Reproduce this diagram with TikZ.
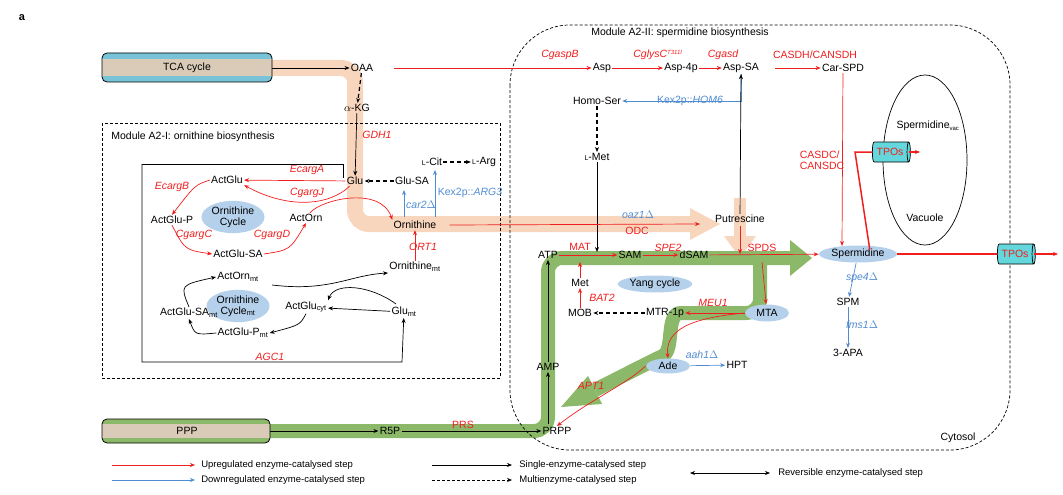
\documentclass[tikz,border=0pt]{standalone}
\usepackage{fontspec}
\setmainfont{Liberation Sans}
\usetikzlibrary{arrows.meta,shapes.geometric,calc}
\definecolor{up}{RGB}{240,30,30}
\definecolor{down}{RGB}{80,140,210}
\definecolor{peach}{RGB}{248,214,190}
\definecolor{grn}{RGB}{140,185,105}
\definecolor{ell}{RGB}{180,208,235}
\definecolor{cyl}{RGB}{100,215,220}
\newcommand{\Lsc}{{\fontsize{7}{7}\selectfont L}}
\begin{document}
\begin{tikzpicture}[x=1pt,y=-1pt,line width=0.7pt,
  every node/.style={font=\fontsize{10.5}{11}\selectfont, inner sep=1pt},
  ue/.style={text=up,font=\fontsize{10.5}{11}\selectfont\itshape},
  un/.style={text=up},
  de/.style={text=down,font=\fontsize{10.5}{11}\selectfont\itshape},
  tip/.style={-{Stealth[length=5pt,width=4pt]}},
  upa/.style={tip,draw=up},
  dna/.style={tip,draw=down},
  bka/.style={tip,draw=black},
  dsh/.style={tip,draw=black,line width=1.2pt,dash pattern=on 4pt off 3pt},
  lg/.style={anchor=west,font=\fontsize{9.5}{10}\selectfont},
  el/.style={ellipse,fill=ell,inner sep=1pt},
  cylnode/.style={cylinder,shape border rotate=0,draw,fill=cyl,aspect=0.35,minimum width=20pt,minimum height=38pt,text=up,inner sep=1pt,font=\fontsize{10.5}{11}\selectfont}]
\useasboundingbox (0,0) rectangle (1063,495);
\node[font=\bfseries\fontsize{11}{12}\selectfont] (a) at (22,18) {a};
% peach band
\draw[peach,line width=16pt,rounded corners=14pt] (272,68) -- (355,68) -- (355,224) -- (690,224);
\fill[peach] (690,208) -- (720,224) -- (690,240) -- cycle;
\fill[peach] (734,198) rectangle (746,236);
\fill[peach] (724,236) -- (756,236) -- (740,258) -- cycle;
% green band
\draw[grn,line width=14pt,rounded corners=14pt] (270,431) -- (548,431) -- (548,258) -- (795,258);
\fill[grn] (790,240) -- (812,258) -- (790,276) -- cycle;
\draw[grn,line width=14pt,rounded corners=14pt] (760,264) -- (760,313) -- (695,313) .. controls (665,313) and (675,350) .. (650,362) -- (595,390);
\fill[grn] (561,407) -- (602,404) -- (588,376) -- cycle;
% boxes
\draw[dash pattern=on 3pt off 2pt] (102,123) rectangle (500,378);
\node[anchor=west] (m1) at (110,137) {Module A2-I: ornithine biosynthesis};
\draw[rounded corners=60pt,dash pattern=on 3pt off 2pt] (510,25) rectangle (1010,450);
\node (m2) at (680,33) {Module A2-II: spermidine biosynthesis};
\node (cyto) at (958,438) {Cytosol};
\fill[rounded corners=5pt,fill={rgb,255:red,120;green,195;blue,215}] (102,53) rectangle (272,82);
\fill[fill={rgb,255:red,217;green,203;blue,183}] (102,59) rectangle (272,76);
\draw[rounded corners=5pt,thick] (102,53) rectangle (272,82);
\node (tca) at (187,68) {TCA cycle};
\fill[rounded corners=5pt,fill=grn] (102,419) rectangle (270,443);
\fill[fill={rgb,255:red,217;green,203;blue,183}] (102,424) rectangle (270,438);
\draw[rounded corners=5pt,thick] (102,419) rectangle (270,443);
\node (ppp) at (187,431) {PPP};
\coordinate (tcar) at (272,68);
\coordinate (pppr) at (270,431);
% module I nodes
\node (oaa) at (362,68) {OAA};
\node (akg) at (357,108) {$\alpha$-KG};
\node (glu) at (355,181) {Glu};
\node (gluSA) at (412,181) {Glu-SA};
\node (cit) at (432,162) {\Lsc-Cit};
\node (arg) at (484,162) {\Lsc-Arg};
\node (orn) at (415,225) {Ornithine};
\node (ornmt) at (415,267) {Ornithine\textsubscript{mt}};
\node (actglu) at (227,180) {ActGlu};
\node (actgluP) at (172,220) {ActGlu-P};
\node[el,align=center,minimum width=62pt,minimum height=26pt] (oc1) at (233,217) {Ornithine\\Cycle};
\node (actorn) at (306,218) {ActOrn};
\node (actgluSA) at (238,254) {ActGlu-SA};
\node (actornmt) at (238,277) {ActOrn\textsubscript{mt}};
\node[el,align=center,minimum width=62pt,minimum height=26pt] (oc2) at (238,306) {Ornithine\\Cycle\textsubscript{mt}};
\node (actgluSAmt) at (189,313) {ActGlu-SA\textsubscript{mt}};
\node (actglucyt) at (306,307) {ActGlu\textsubscript{cyt}};
\node (actgluPmt) at (243,333) {ActGlu-P\textsubscript{mt}};
\node (glumt) at (404,312) {Glu\textsubscript{mt}};
% module II nodes
\node (asp) at (602,68) {Asp};
\node (asp4p) at (681,68) {Asp-4p};
\node (aspSA) at (741,68) {Asp-SA};
\node (carspd) at (843,68) {Car-SPD};
\node (homoser) at (597,101) {Homo-Ser};
\node (met) at (597,157) {\Lsc-Met};
\node (put) at (740,219) {Putrescine};
\node (atp) at (548,255) {ATP};
\node (sam) at (630,255) {SAM};
\node (dsam) at (694,255) {dSAM};
\node[el,minimum width=62pt,minimum height=17pt] (spd) at (858,254) {Spermidine};
\node (met2) at (580,283) {Met};
\node (mob) at (580,313) {MOB};
\node (mtr) at (665,313) {MTR-1p};
\node[el,minimum width=44pt,minimum height=17pt] (mta) at (767,313) {MTA};
\node[el,minimum width=60pt,minimum height=17pt] (yang) at (655,284) {Yang cycle};
\node[el,minimum width=44pt,minimum height=15pt] (ade) at (668,366) {Ade};
\node (hpt) at (737,365) {HPT};
\node (amp) at (548,367) {AMP};
\node (prpp) at (557,431) {PRPP};
\node (r5p) at (390,431) {R5P};
\node (spm) at (848,302) {SPM};
\node (apa) at (848,353) {3-APA};
\draw (925,160) ellipse[x radius=42,y radius=85];
\node (spdvac) at (928,126) {Spermidine\textsubscript{\fontsize{6}{6}\selectfont vac}};
\node (vac) at (925,218) {Vacuole};
\node[cylnode] (tpo1) at (890,152) {TPOs};
\node[cylnode] (tpo2) at (1015,254) {TPOs};
\coordinate (tpo1e) at (909,152);
\coordinate (tpo2e) at (1034,254);
% enzyme labels
\node[ue] at (377,135) {GDH1};
\node[ue] at (307,170) {EcargA};
\node[ue] at (307,193) {CgargJ};
\node[ue] at (172,187) {EcargB};
\node[ue] at (194,235) {CgargC};
\node[ue] at (272,235) {CgargD};
\node[de] at (421,205) {car2$\Delta$};
\node[text=down] at (470,193) {Kex2p::\textit{ARG3}};
\node[ue] at (423,247) {ORT1};
\node[ue] at (270,357) {AGC1};
\node[ue] at (560,55) {CgaspB};
\node[ue] at (658,55) {CglysC\textsuperscript{\fontsize{6}{6}\selectfont T311I}};
\node[ue] at (723,55) {Cgasd};
\node[un] at (815,55) {CASDH/CANSDH};
\node[text=down] at (690,101) {Kex2p::\textit{HOM6}};
\node[de] at (638,215) {oaz1$\Delta$};
\node[un] at (637,231) {ODC};
\node[un] at (580,247) {MAT};
\node[ue] at (668,248) {SPE2};
\node[un] at (762,248) {SPDS};
\node[ue] at (602,298) {BAT2};
\node[ue] at (713,303) {MEU1};
\node[de] at (702,355) {aah1$\Delta$};
\node[ue] at (591,386) {APT1};
\node[un] at (463,425) {PRS};
\node[un,align=left] at (822,160) {CASDC/\\CANSDC};
\node[de] at (862,278) {spe4$\Delta$};
\node[de] at (862,325) {fms1$\Delta$};
% connectors
\draw[bka] (tcar) -- (oaa);
\draw[dsh] (oaa) -- (akg);
\draw[bka] (akg) -- (glu);
\draw[upa] (oaa.east) ++(20,0) -- (asp);
\draw[upa] (asp) -- (asp4p);
\draw[upa] (asp4p) -- (aspSA);
\draw[upa] (aspSA.east) ++(15,0) -- (carspd);
\draw[dna] (aspSA.south) -- (741,101) -- (homoser);
\draw[dsh] (homoser) -- (met);
\draw[bka] (met) -- (597,252);
\draw[bka] (put) -- (aspSA);
\draw[upa] (740,226) -- (740,254);
\draw[upa] (carspd) -- (842,246);
\draw[dsh] (gluSA) -- (glu);
\draw[dsh] (cit) -- (arg);
\draw[dna] (404,217) -- (404,190);
\draw[dna] (435,217) -- (435,170);
\draw[upa] (orn.east) ++(12,0) -- (700,224);
\draw[upa] (ornmt) -- (orn);
\draw[upa] (glu) -- (actglu);
\draw[upa] (glu) .. controls (330,205) and (290,210) .. (actglu.south east);
\draw[upa] (actorn) .. controls (320,200) and (380,185) .. (orn.north west);
\draw[upa] (actglu.west) .. controls (195,185) .. (actgluP.north);
\draw[upa] (actgluP.south) .. controls (185,250) .. (actgluSA.west);
\draw[upa] (actgluSA.east) .. controls (290,250) .. (actorn.south);
\draw (142,164) -- (343,164) -- (343,178);
\draw[bka] (142,164) -- (142,362) -- (402,362) -- (glumt);
\draw[bka] (glumt) -- (actglucyt);
\draw[bka] (actornmt.east) ++(12,8) .. controls (330,292) and (350,275) .. (ornmt.south west);
\draw[bka] (glumt.north) ++(-8,-2) .. controls (370,285) and (335,282) .. (actglucyt.north east);
\draw[bka] (actglucyt.south) .. controls (300,325) .. (actgluPmt.east);
\draw[bka] (actgluPmt.west) .. controls (195,335) .. (actgluSAmt.south);
\draw[bka] (actgluSAmt.north) .. controls (180,285) .. (actornmt.west);
\draw[bka] (pppr) -- (r5p);
\draw[bka] (r5p) -- (prpp);
\draw[bka] (548,424) -- (amp);
\draw[bka] (amp) -- (atp);
\draw[upa] (atp) -- (sam);
\draw[upa] (sam) -- (dsam);
\draw[upa] (dsam) -- (spd);
\draw[upa] (met2) -- (580,262);
\draw[upa] (mob) -- (met2);
\draw[dsh] (mtr) -- (mob);
\draw[upa] (mta) -- (mtr);
\draw[upa] (762,262) -- (mta);
\draw[upa] (mta.west) .. controls (690,318) and (665,330) .. (ade.north);
\draw[upa] (ade.west) .. controls (625,385) and (590,400) .. (prpp.north);
\draw[dna] (ade) -- (hpt);
\draw[dna] (spd) -- (spm);
\draw[dna] (spm) -- (apa);
\draw[up,line width=1.5pt] (spd.north east) ++(-16,2) -- (855,152) -- (tpo1.west);
\draw[upa,line width=1.5pt] (tpo1e) -- (920,152);
\draw[up,line width=1.5pt] (spd) -- (tpo2);
\draw[upa,line width=1.5pt] (tpo2e) -- (1058,254);
% legend
\coordinate (l1a) at (112,465); \coordinate (l1b) at (195,465);
\coordinate (l2a) at (112,480); \coordinate (l2b) at (195,480);
\coordinate (l3a) at (432,465); \coordinate (l3b) at (512,465);
\coordinate (l4a) at (432,480); \coordinate (l4b) at (512,480);
\coordinate (l5a) at (690,473); \coordinate (l5b) at (770,473);
\draw[upa] (l1a) -- (l1b); \node[lg] at (200,465) {Upregulated enzyme-catalysed step};
\draw[dna] (l2a) -- (l2b); \node[lg] at (200,480) {Downregulated enzyme-catalysed step};
\draw[bka] (l3a) -- (l3b); \node[lg] at (518,465) {Single-enzyme-catalysed step};
\draw[tip,dash pattern=on 3pt off 2pt] (l4a) -- (l4b); \node[lg] at (518,480) {Multienzyme-catalysed step};
\draw[{Stealth[length=5pt,width=4pt]}-{Stealth[length=5pt,width=4pt]}] (l5a) -- (l5b); \node[lg] at (777,473) {Reversible enzyme-catalysed step};
\end{tikzpicture}
\end{document}
